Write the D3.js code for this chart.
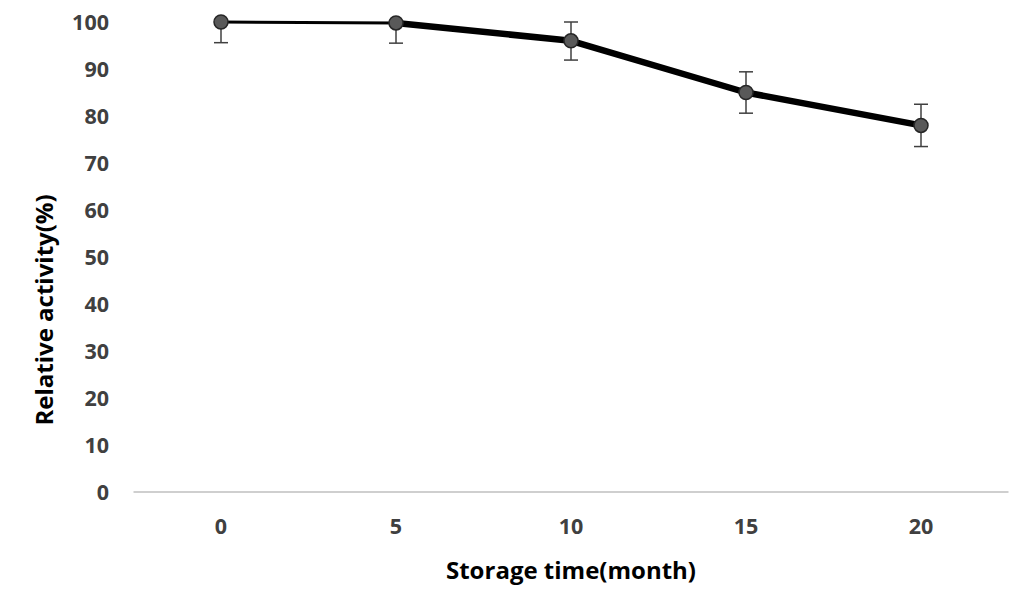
<!DOCTYPE html>
<html>
<head>
<meta charset="utf-8">
<script src="https://cdn.jsdelivr.net/npm/d3@7"></script>
<style>
body{margin:0;background:#fff;}
</style>
</head>
<body>
<div id="chart"></div>
<script>
var months = ["0","5","10","15","20"];
var activity = [100, 99.8, 96, 85, 78];
var errors = [4.4, 4.3, 4.1, 4.4, 4.5];
var yTicks = [0,10,20,30,40,50,60,70,80,90,100];

var svgwidth = 1024, svgheight = 604;
var font = "'Open Sans', 'DejaVu Sans', sans-serif";

var svg = d3.select("#chart")
	.append("svg")
	.attr("width",svgwidth)
	.attr("height",svgheight);

var x = d3.scaleBand().domain(months).range([133.5,1008.5]);
var y = d3.scaleLinear().domain([0,100]).range([492,22]);
var cx = function(i){ return x(months[i])+x.bandwidth()/2; };

// baseline
svg.append("line")
	.attr("x1",x.range()[0]).attr("x2",x.range()[1])
	.attr("y1",y(0)).attr("y2",y(0))
	.attr("stroke","#bfbfbf").attr("stroke-width",1.5);

// y tick labels
svg.selectAll(".ytick").data(yTicks).enter().append("text")
	.attr("x",109).attr("y",function(d){return y(d);})
	.attr("dy","0.36em")
	.attr("text-anchor","end")
	.attr("font-family",font).attr("font-weight","bold").attr("font-size","21.5px")
	.attr("fill","#404040")
	.text(function(d){return d;});

// x tick labels
svg.selectAll(".xtick").data(months).enter().append("text")
	.attr("x",function(d){return x(d)+x.bandwidth()/2;})
	.attr("y",526)
	.attr("dy","0.36em")
	.attr("text-anchor","middle")
	.attr("font-family",font).attr("font-weight","bold").attr("font-size","21.5px")
	.attr("fill","#404040")
	.text(function(d){return d;});

// axis titles
svg.append("text")
	.attr("x",571).attr("y",570).attr("dy","0.36em")
	.attr("text-anchor","middle")
	.attr("font-family",font).attr("font-weight","bold").attr("font-size","24px")
	.attr("fill","#000")
	.text("Storage time(month)");

svg.append("text")
	.attr("transform","translate(44,310) rotate(-90)")
	.attr("dy","0.36em")
	.attr("text-anchor","middle")
	.attr("font-family",font).attr("font-weight","bold").attr("font-size","24px")
	.attr("fill","#000")
	.text("Relative activity(%)");

// line: first segment thin, rest thick
var line = d3.line()
	.x(function(d){return cx(d);})
	.y(function(d){return y(activity[d]);});

svg.append("path")
	.attr("d",line([0,1]))
	.attr("fill","none").attr("stroke","#000").attr("stroke-width",3);
svg.append("path")
	.attr("d",line([1,2,3,4]))
	.attr("fill","none").attr("stroke","#000").attr("stroke-width",6.5)
	.attr("stroke-linejoin","round");

// error bars, clipped at 100
var eb = svg.append("g").attr("stroke","#404040").attr("stroke-width",1.5);
activity.forEach(function(v,i){
	var top = Math.min(v+errors[i],100), bot = v-errors[i];
	eb.append("line").attr("x1",cx(i)).attr("x2",cx(i)).attr("y1",y(top)).attr("y2",y(bot));
	eb.append("line").attr("x1",cx(i)-7).attr("x2",cx(i)+7).attr("y1",y(bot)).attr("y2",y(bot));
	if(v+errors[i]<=100.5)
		eb.append("line").attr("x1",cx(i)-7).attr("x2",cx(i)+7).attr("y1",y(top)).attr("y2",y(top));
});

// markers
svg.selectAll(".pt").data(activity).enter().append("circle")
	.attr("cx",function(d,i){return cx(i);})
	.attr("cy",function(d){return y(d);})
	.attr("r",7)
	.attr("fill","#595959").attr("stroke","#262626").attr("stroke-width",1.5);
</script>
</body>
</html>
